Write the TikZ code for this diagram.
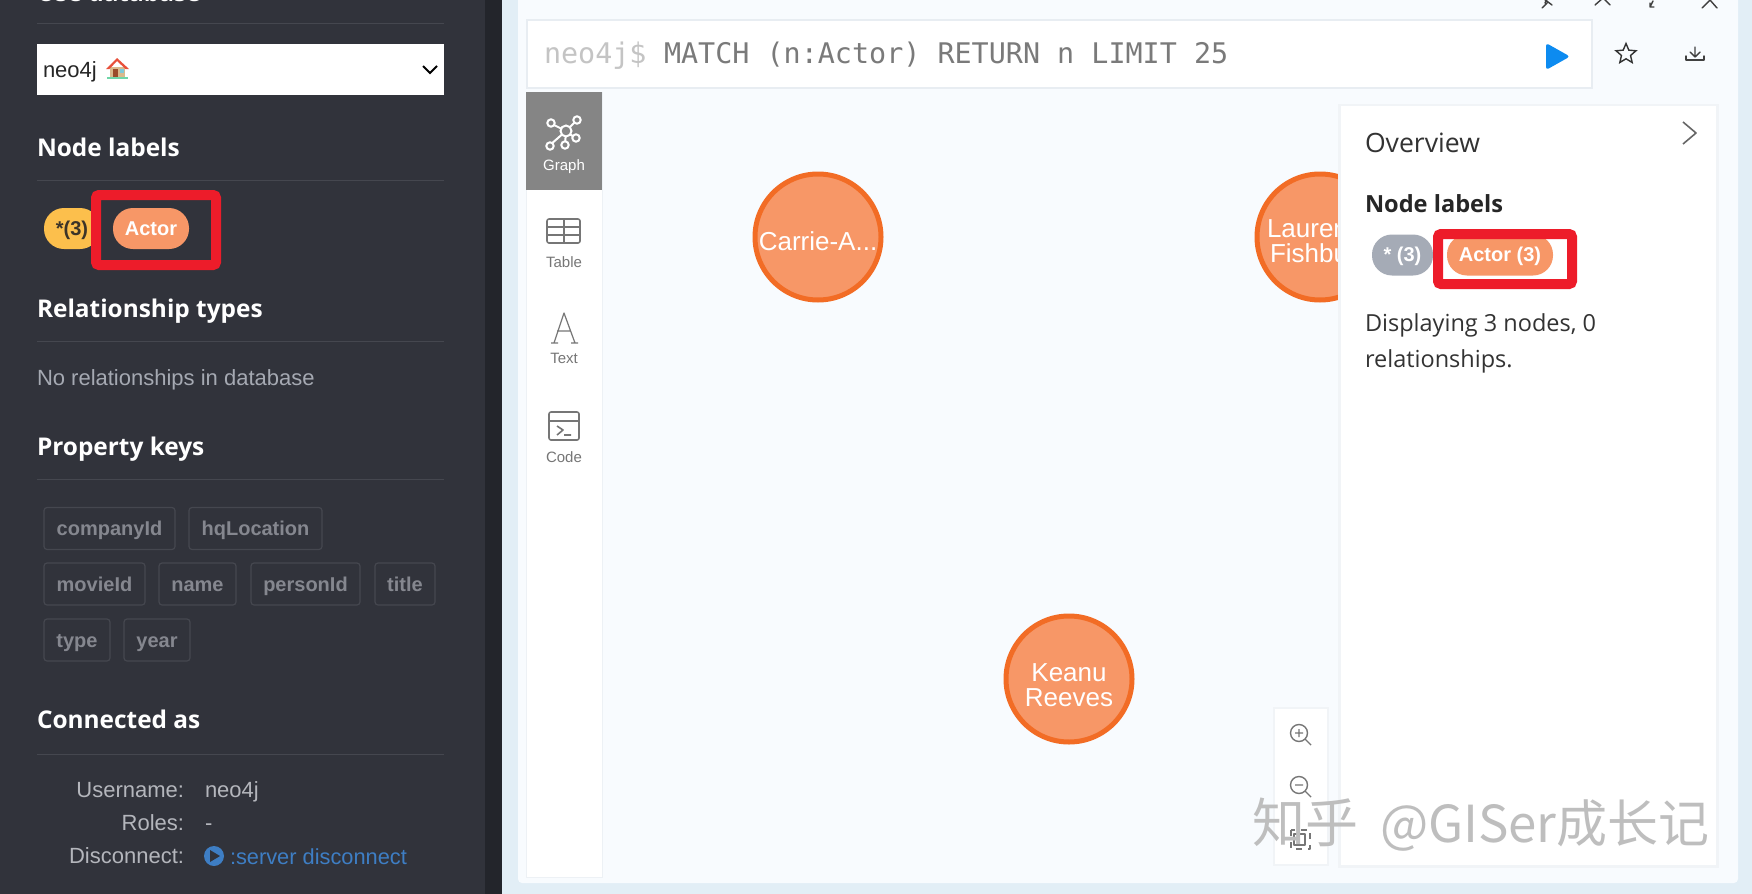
\documentclass[tikz,border=0pt]{standalone}
\usepackage{fontspec}
\usetikzlibrary{shapes.geometric}
\setmainfont{Liberation Sans}
\newfontfamily\openf{Open Sans}
\newfontfamily\monof{DejaVu Sans Mono}
\newfontfamily\cjkf{Noto Sans CJK SC}
\definecolor{side}{HTML}{31333B}
\definecolor{sidedark}{HTML}{23252B}
\definecolor{paleblue}{HTML}{E2EEF6}
\definecolor{panel}{HTML}{F8FBFE}
\definecolor{rulec}{HTML}{45474F}
\definecolor{tagc}{HTML}{85878F}
\definecolor{sidetext}{HTML}{B4B6BC}
\definecolor{orangef}{HTML}{F79767}
\definecolor{oranged}{HTML}{F26C25}
\definecolor{redbox}{HTML}{ED1C2A}
\definecolor{iconc}{HTML}{767676}
\definecolor{yellowp}{HTML}{FCBF4C}
\definecolor{yellowt}{HTML}{3C3428}
\definecolor{norelc}{HTML}{A5A9B2}
\definecolor{linkc}{HTML}{3E7EC4}
\definecolor{cardb}{HTML}{E8EDF2}
\definecolor{promptc}{HTML}{C4C4C4}
\definecolor{cmdc}{HTML}{7A7A7A}
\definecolor{playc}{HTML}{0D8BF0}
\definecolor{stripb}{HTML}{EDF1F5}
\definecolor{tabg}{HTML}{858585}
\definecolor{shadowc}{HTML}{F1F4F7}
\definecolor{greyp}{HTML}{A5ABB6}
\definecolor{wmc}{HTML}{BEBEBE}
\definecolor{hgreen}{HTML}{6FD6A8}
\definecolor{hwall}{HTML}{D9B98C}
\definecolor{hdoor}{HTML}{9A4B2A}
\definecolor{hwin}{HTML}{7FC8D8}
\definecolor{hroof}{HTML}{E8503A}
\tikzset{
  x=0.5pt,y=-0.5pt,
  txt/.style={inner sep=0pt,outer sep=0pt,anchor=base west},
  txtr/.style={inner sep=0pt,outer sep=0pt,anchor=base east},
  txtc/.style={inner sep=0pt,outer sep=0pt,anchor=base},
  heading/.style={txt,text=white,font=\openf\bfseries\fontsize{12.2}{14}\selectfont},
  siderule/.style={draw=rulec,line width=0.5pt},
  body/.style={txt,text=sidetext,font=\fontsize{11}{13}\selectfont},
  bodyr/.style={txtr,text=sidetext,font=\fontsize{11}{13}\selectfont},
  tag/.style={rectangle,draw=rulec,line width=0.6pt,rounded corners=1.5pt,inner sep=0pt,
    minimum height=21pt,text height=9pt,text depth=2pt,text=tagc,
    font=\bfseries\fontsize{10}{12}\selectfont,anchor=center},
  pill/.style={rectangle,rounded corners=10pt,inner sep=0pt,minimum height=20.5pt,
    text height=9pt,text depth=2.2pt,font=\bfseries\fontsize{10}{12}\selectfont,anchor=center},
  redrect/.style={draw=redbox,line width=5pt,rounded corners=1.5pt},
  tablabel/.style={txtc,text=iconc,font=\fontsize{7.5}{9}\selectfont},
  icon/.style={draw=iconc,line width=0.8pt,line join=round},
  gnode/.style={circle,draw=oranged,fill=orangef,line width=2.5pt,minimum size=63pt,inner sep=0pt},
  gtext/.style={txtc,text=white,font=\fontsize{13}{13}\selectfont},
  darkicon/.style={draw=black!75,line width=0.7pt,line join=round,line cap=round},
}
\begin{document}
\begin{tikzpicture}
\clip (0,0) rectangle (1752,894);
% backgrounds
\fill[paleblue] (0,0) rectangle (1752,894);
\fill[side] (0,0) rectangle (485,894);
\fill[sidedark] (485,0) rectangle (502,894);
\fill[panel,rounded corners=2pt] (518,-10) rectangle (1738,883);

% sidebar
\node[heading] (usedb) at (37,2) {Use database};
\draw[siderule] (37,23) -- (444,23);
\fill[white] (37,44) rectangle (444,95);
\node[txt,text=black!85,font=\fontsize{11}{13}\selectfont] (dbname) at (43,77) {neo4j};
% house emoji
\fill[hgreen] (107,77) rectangle (128,79);
\fill[hwall] (110,67) rectangle (125,77);
\fill[hdoor] (113,69) rectangle (118,77);
\fill[hwin] (120,69) rectangle (124,73);
\fill[hroof] (106,69) -- (117,58) -- (129,69) -- (125.5,69) -- (117,61) -- (109.5,69) -- cycle;
\draw[black,line width=0.9pt,line join=miter] (423,66) -- (430,73) -- (437,66);

\node[heading] (h1) at (37,156) {Node labels};
\draw[siderule] (37,180) -- (444,180);
\node[pill,fill=yellowp,text=yellowt,minimum width=28pt] (allsb) at (72,228.5) {*(3)};
\node[pill,fill=orangef,text=white,minimum width=38pt] (actorsb) at (151,228.5) {Actor};
\draw[redrect] (96,195) rectangle (216,265);

\node[heading] (h2) at (37,317) {Relationship types};
\draw[siderule] (37,341) -- (444,341);
\node[body,text=norelc] (norel) at (37,385) {No relationships in database};

\node[heading] (h3) at (37,455) {Property keys};
\draw[siderule] (37,479) -- (444,479);
\node[tag,minimum width=65.5pt] (t1) at (109.5,528.5) {companyId};
\node[tag,minimum width=66.5pt] (t2) at (255.5,528.5) {hqLocation};
\node[tag,minimum width=50.5pt] (t3) at (94.5,584) {movieId};
\node[tag,minimum width=38.5pt] (t4) at (197.5,584) {name};
\node[tag,minimum width=54.5pt] (t5) at (305.5,584) {personId};
\node[tag,minimum width=30pt] (t6) at (405,584) {title};
\node[tag,minimum width=33pt] (t7) at (77,640) {type};
\node[tag,minimum width=33pt] (t8) at (157,640) {year};

\node[heading] (h4) at (37,728) {Connected as};
\draw[siderule] (37,754) -- (444,754);
\node[bodyr] (l1) at (184,797) {Username:};
\node[bodyr] (l2) at (184,830) {Roles:};
\node[bodyr] (l3) at (184,863) {Disconnect:};
\node[body] (v1) at (205,797) {neo4j};
\node[body] (v2) at (205,830) {-};
\fill[linkc] (214,856) circle[radius=10];
\fill[side] (210,850) -- (220,856) -- (210,862) -- cycle;
\node[body,text=linkc,font=\fontsize{10.9}{13}\selectfont] (v3) at (230,864) {:server disconnect};

% editor card
\draw[fill=white,draw=cardb,line width=0.6pt] (527,20) rectangle (1592,88);
\node[txt,font=\monof\fontsize{14.2}{16}\selectfont,text=promptc] (prompt) at (544,63) {neo4j\$};
\node[txt,font=\monof\fontsize{14.2}{16}\selectfont,text=cmdc] (cmd) at (664,63) {MATCH (n:Actor) RETURN n LIMIT 25};
\fill[playc,rounded corners=1.5pt] (1546,43) -- (1570,56.5) -- (1546,70) -- cycle;
\node[star,star points=5,star point ratio=2.2,draw=black!80,line width=0.7pt,minimum size=10.5pt,inner sep=0pt] (star) at (1626,54) {};
\draw[darkicon] (1686,56) -- (1686,60) -- (1704,60) -- (1704,56);
\draw[darkicon] (1695,47) -- (1695,57) (1690,52) -- (1695,57) -- (1700,52);
% window icons
\draw[darkicon] (1542,8) -- (1547,3) (1544,-1) -- (1552,5) (1547,-1) -- (1545,3);
\draw[darkicon] (1595,5) -- (1603,-2) -- (1610,5);
\draw[darkicon] (1653,1) -- (1650,7) (1650,3) -- (1650,7) -- (1654,7);
\draw[darkicon] (1702,8) -- (1710,0) -- (1717,8);

% tab strip
\draw[fill=white,draw=stripb,line width=0.5pt] (526,92) rectangle (602,877);
\fill[tabg] (526,92) rectangle (602,190);
\begin{scope}[draw=white,line width=1pt]
\draw (566,131) -- (550,123) (566,131) -- (577,120) (566,131) -- (575,138) (566,131) -- (565,145) (566,131) -- (550,145);
\foreach \p in {(551,123),(577,120),(576,138),(565,145),(550,146)} \filldraw[fill=tabg] \p circle[radius=3.7];
\filldraw[fill=tabg] (566,131) circle[radius=5.5];
\end{scope}
\node[tablabel,text=white] (tabgraph) at (564,170) {Graph};
\draw[icon,rounded corners=1pt] (547,219) rectangle (580,243);
\draw[icon] (547,227) -- (580,227) (547,235) -- (580,235) (564,219) -- (564,243);
\node[tablabel] (tabt) at (564,267) {Table};
\draw[icon,line width=0.6pt] (554,343) -- (564,313) -- (575,343) (551,343) -- (558,343) (571,343) -- (578,343) (557,331) -- (571,331);
\node[tablabel] (tabx) at (564,363) {Text};
\draw[icon,rounded corners=1pt] (549,412) rectangle (579,440);
\draw[icon] (549,421) -- (579,421) (557,426) -- (563,430) -- (557,435) (564,435) -- (571,435);
\node[tablabel] (tabc) at (564,462) {Code};

% graph nodes
\node[gnode] (carrie) at (818,237) {};
\node[gtext] (carriet) at (818,250) {Carrie-A...};
\node[gnode] (laurence) at (1320,237) {};
\node[txt,text=white,font=\fontsize{13}{13}\selectfont] (lt1) at (1267,237) {Lauren};
\node[txt,text=white,font=\fontsize{13}{13}\selectfont] (lt2) at (1270,262) {Fishbu};
\node[gnode] (keanu) at (1069,679) {};
\node[gtext] (kt1) at (1069,681) {Keanu};
\node[gtext] (kt2) at (1069,706) {Reeves};

% zoom controls
\fill[shadowc] (1273,707) rectangle (1329,866);
\fill[white] (1275,709) rectangle (1327,864);
\draw[icon,line width=0.7pt] (1299,733) circle[radius=8.5] (1305,739) -- (1311,745) (1295,733) -- (1303,733) (1299,729) -- (1299,737);
\draw[icon,line width=0.7pt] (1299,785) circle[radius=8.5] (1305,791) -- (1311,797) (1295,785) -- (1303,785);
\draw[icon,line width=0.7pt] (1294,834) rectangle (1305,845);
\draw[icon,line width=0.7pt,dashed] (1291,830) rectangle (1310,849);

% overview panel
\fill[shadowc] (1338,104) rectangle (1719,868);
\fill[white] (1341,106) rectangle (1716,865);
\node[txt,text=black!80,font=\openf\fontsize{13.3}{15}\selectfont] (ov) at (1365,152) {Overview};
\draw[icon,draw=black!60,line width=0.8pt] (1683,122) -- (1696,133) -- (1683,144);
\node[txt,text=black!85,font=\openf\bfseries\fontsize{11.8}{14}\selectfont] (nl) at (1365,212) {Node labels};
\node[pill,fill=greyp,text=white,minimum width=30.5pt] (allp) at (1402.5,255) {* (3)};
\node[pill,fill=orangef,text=white,minimum width=53pt] (actp) at (1500,255) {Actor (3)};
\draw[redrect] (1438,234) rectangle (1572,284);
\node[txt,text=black!80,font=\openf\fontsize{11.75}{15}\selectfont] (d1) at (1365,331) {Displaying 3 nodes, 0};
\node[txt,text=black!80,font=\openf\fontsize{11.75}{15}\selectfont] (d2) at (1365,367) {relationships.};

% watermark
\node[txt,text=wmc,font=\cjkf\fontsize{26.5}{30}\selectfont] (wm) at (1252,842) {知乎\hspace{11pt}\fontsize{25.5}{30}\selectfont @GISer成长记};
\end{tikzpicture}
\end{document}
